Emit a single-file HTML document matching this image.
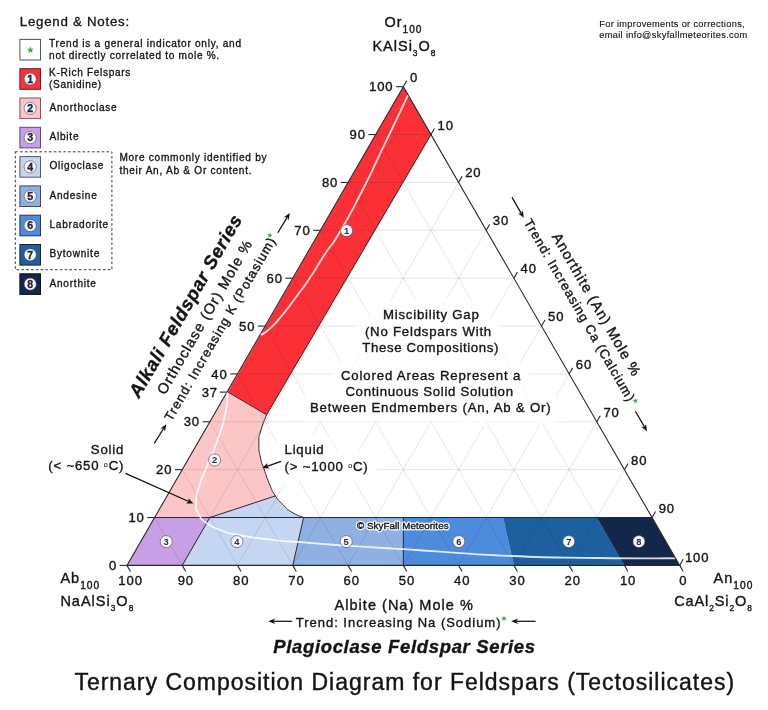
<!DOCTYPE html>
<html><head><meta charset="utf-8"><title>Ternary Composition Diagram for Feldspars</title>
<style>
html,body{margin:0;padding:0;background:#fff;}
body{width:768px;height:710px;overflow:hidden;font-family:"Liberation Sans",sans-serif;}
svg{display:block;font-family:"Liberation Sans",sans-serif;fill:#141414;}
#text text{stroke:#141414;stroke-width:0.36px;}
#legend text{stroke:#141414;stroke-width:0.32px;}
</style></head><body>
<svg width="768" height="710" viewBox="0 0 768 710">
<rect width="768" height="710" fill="#fff"/>
<defs><filter id="glow" x="-10%" y="-60%" width="120%" height="220%"><feGaussianBlur stdDeviation="2.6"/></filter>
<clipPath id="rc">
<path d="M 403.32,86.7 L 430.96,134.57 L 266.6,414.8 L 227.8,392 Z" fill="#fb3036"/>
<path d="M 227.8,392 L 266.6,414.8 C 264.67,420.1 263.37,421.17 260.8,430.7 C 258.23,440.23 258.97,434.23 258.9,443.4 C 258.83,452.57 258.9,449.73 260.6,458.2 C 262.3,466.67 261.1,460.33 264,468.8 C 266.9,477.27 265.5,474.57 269.3,483.6 C 273.1,492.63 270.83,488.87 275.4,495.9 L 209.86,517.53 L 154.59,517.53 Z" fill="#fdc6c6"/>
<polygon points="126.95,565.4 182.23,565.4 209.86,517.53 154.59,517.53" fill="#c69fe6" stroke="none" stroke-width="1" />
<path d="M 182.23,565.4 L 209.86,517.53 L 275.4,495.9 C 279.97,502.93 277.63,499.33 283,504.7 C 288.37,510.07 284.63,507.72 291.5,512 C 298.37,516.28 299.57,515.69 303.6,517.53 L 292.77,565.4 Z" fill="#c4d6f1"/>
<polygon points="292.77,565.4 303.6,517.53 403.32,517.53 403.32,565.4" fill="#8fb0e2" stroke="none" stroke-width="1" />
<polygon points="403.32,565.4 403.32,517.53 503,517.53 513.88,565.4" fill="#4d8bdc" stroke="none" stroke-width="1" />
<polygon points="513.88,565.4 503,517.53 596.79,517.53 624.43,565.4" fill="#1d609f" stroke="none" stroke-width="1" />
<polygon points="624.43,565.4 596.79,517.53 652.06,517.53 679.7,565.4" fill="#13274a" stroke="none" stroke-width="1" />
</clipPath></defs>
<g id="grid0">
<line x1="154.59" y1="517.53" x2="652.06" y2="517.53" stroke="rgba(30,20,30,0.125)" stroke-width="0.9" />
<line x1="182.23" y1="565.4" x2="430.96" y2="134.57" stroke="rgba(30,20,30,0.125)" stroke-width="0.9" />
<line x1="624.43" y1="565.4" x2="375.69" y2="134.57" stroke="rgba(30,20,30,0.125)" stroke-width="0.9" />
<line x1="182.23" y1="469.66" x2="624.43" y2="469.66" stroke="rgba(30,20,30,0.125)" stroke-width="0.9" />
<line x1="237.5" y1="565.4" x2="458.6" y2="182.44" stroke="rgba(30,20,30,0.125)" stroke-width="0.9" />
<line x1="569.15" y1="565.4" x2="348.05" y2="182.44" stroke="rgba(30,20,30,0.125)" stroke-width="0.9" />
<line x1="209.86" y1="421.79" x2="596.79" y2="421.79" stroke="rgba(30,20,30,0.125)" stroke-width="0.9" />
<line x1="292.77" y1="565.4" x2="486.24" y2="230.31" stroke="rgba(30,20,30,0.125)" stroke-width="0.9" />
<line x1="513.88" y1="565.4" x2="320.41" y2="230.31" stroke="rgba(30,20,30,0.125)" stroke-width="0.9" />
<line x1="237.5" y1="373.92" x2="569.15" y2="373.92" stroke="rgba(30,20,30,0.125)" stroke-width="0.9" />
<line x1="348.05" y1="565.4" x2="513.88" y2="278.18" stroke="rgba(30,20,30,0.125)" stroke-width="0.9" />
<line x1="458.6" y1="565.4" x2="292.77" y2="278.18" stroke="rgba(30,20,30,0.125)" stroke-width="0.9" />
<line x1="265.14" y1="326.05" x2="541.51" y2="326.05" stroke="rgba(30,20,30,0.125)" stroke-width="0.9" />
<line x1="403.32" y1="565.4" x2="541.51" y2="326.05" stroke="rgba(30,20,30,0.125)" stroke-width="0.9" />
<line x1="403.32" y1="565.4" x2="265.14" y2="326.05" stroke="rgba(30,20,30,0.125)" stroke-width="0.9" />
<line x1="292.77" y1="278.18" x2="513.88" y2="278.18" stroke="rgba(30,20,30,0.125)" stroke-width="0.9" />
<line x1="458.6" y1="565.4" x2="569.15" y2="373.92" stroke="rgba(30,20,30,0.125)" stroke-width="0.9" />
<line x1="348.05" y1="565.4" x2="237.5" y2="373.92" stroke="rgba(30,20,30,0.125)" stroke-width="0.9" />
<line x1="320.41" y1="230.31" x2="486.24" y2="230.31" stroke="rgba(30,20,30,0.125)" stroke-width="0.9" />
<line x1="513.88" y1="565.4" x2="596.79" y2="421.79" stroke="rgba(30,20,30,0.125)" stroke-width="0.9" />
<line x1="292.77" y1="565.4" x2="209.86" y2="421.79" stroke="rgba(30,20,30,0.125)" stroke-width="0.9" />
<line x1="348.05" y1="182.44" x2="458.6" y2="182.44" stroke="rgba(30,20,30,0.125)" stroke-width="0.9" />
<line x1="569.15" y1="565.4" x2="624.43" y2="469.66" stroke="rgba(30,20,30,0.125)" stroke-width="0.9" />
<line x1="237.5" y1="565.4" x2="182.23" y2="469.66" stroke="rgba(30,20,30,0.125)" stroke-width="0.9" />
<line x1="375.69" y1="134.57" x2="430.96" y2="134.57" stroke="rgba(30,20,30,0.125)" stroke-width="0.9" />
<line x1="624.43" y1="565.4" x2="652.06" y2="517.53" stroke="rgba(30,20,30,0.125)" stroke-width="0.9" />
<line x1="182.23" y1="565.4" x2="154.59" y2="517.53" stroke="rgba(30,20,30,0.125)" stroke-width="0.9" />
</g>
<g id="halo" filter="url(#glow)">
<text x="383" y="319.4" font-size="13.2" letter-spacing="0.77" stroke="#fff" stroke-width="20" fill="#fff" stroke-linejoin="round" stroke-linecap="round">Miscibility Gap</text>
<text x="364.9" y="335.9" font-size="13.2" letter-spacing="0.79" stroke="#fff" stroke-width="20" fill="#fff" stroke-linejoin="round" stroke-linecap="round">(No Feldspars With</text>
<text x="362.3" y="352" font-size="13.2" letter-spacing="0.64" stroke="#fff" stroke-width="20" fill="#fff" stroke-linejoin="round" stroke-linecap="round">These Compositions)</text>
<text x="341" y="380" font-size="13.2" letter-spacing="0.84" stroke="#fff" stroke-width="20" fill="#fff" stroke-linejoin="round" stroke-linecap="round">Colored Areas Represent a</text>
<text x="345.4" y="395.9" font-size="13.2" letter-spacing="0.69" stroke="#fff" stroke-width="20" fill="#fff" stroke-linejoin="round" stroke-linecap="round">Continuous Solid Solution</text>
<text x="310" y="411.9" font-size="13.2" letter-spacing="0.81" stroke="#fff" stroke-width="20" fill="#fff" stroke-linejoin="round" stroke-linecap="round">Between Endmembers (An, Ab &amp; Or)</text>
<text x="284.5" y="454" font-size="13.2" letter-spacing="0.8" stroke="#fff" stroke-width="20" fill="#fff" stroke-linejoin="round" stroke-linecap="round">Liquid</text>
<text x="284.5" y="471" font-size="13.2" letter-spacing="0.8" stroke="#fff" stroke-width="20" fill="#fff" stroke-linejoin="round" stroke-linecap="round">(&gt; ~1000 <tspan font-size="7.2" dy="-3.4" style="stroke-width:0.1px">o</tspan><tspan dy="3.4">C)</tspan></text>
</g>
<g id="regions">
<path d="M 403.32,86.7 L 430.96,134.57 L 266.6,414.8 L 227.8,392 Z" fill="#fb3036"/>
<path d="M 227.8,392 L 266.6,414.8 C 264.67,420.1 263.37,421.17 260.8,430.7 C 258.23,440.23 258.97,434.23 258.9,443.4 C 258.83,452.57 258.9,449.73 260.6,458.2 C 262.3,466.67 261.1,460.33 264,468.8 C 266.9,477.27 265.5,474.57 269.3,483.6 C 273.1,492.63 270.83,488.87 275.4,495.9 L 209.86,517.53 L 154.59,517.53 Z" fill="#fdc6c6"/>
<polygon points="126.95,565.4 182.23,565.4 209.86,517.53 154.59,517.53" fill="#c69fe6" stroke="none" stroke-width="1" />
<path d="M 182.23,565.4 L 209.86,517.53 L 275.4,495.9 C 279.97,502.93 277.63,499.33 283,504.7 C 288.37,510.07 284.63,507.72 291.5,512 C 298.37,516.28 299.57,515.69 303.6,517.53 L 292.77,565.4 Z" fill="#c4d6f1"/>
<polygon points="292.77,565.4 303.6,517.53 403.32,517.53 403.32,565.4" fill="#8fb0e2" stroke="none" stroke-width="1" />
<polygon points="403.32,565.4 403.32,517.53 503,517.53 513.88,565.4" fill="#4d8bdc" stroke="none" stroke-width="1" />
<polygon points="513.88,565.4 503,517.53 596.79,517.53 624.43,565.4" fill="#1d609f" stroke="none" stroke-width="1" />
<polygon points="624.43,565.4 596.79,517.53 652.06,517.53 679.7,565.4" fill="#13274a" stroke="none" stroke-width="1" />
</g>
<g id="grid" clip-path="url(#rc)">
<line x1="154.59" y1="517.53" x2="652.06" y2="517.53" stroke="rgba(30,20,30,0.125)" stroke-width="0.9" />
<line x1="182.23" y1="565.4" x2="430.96" y2="134.57" stroke="rgba(30,20,30,0.125)" stroke-width="0.9" />
<line x1="624.43" y1="565.4" x2="375.69" y2="134.57" stroke="rgba(30,20,30,0.125)" stroke-width="0.9" />
<line x1="182.23" y1="469.66" x2="624.43" y2="469.66" stroke="rgba(30,20,30,0.125)" stroke-width="0.9" />
<line x1="237.5" y1="565.4" x2="458.6" y2="182.44" stroke="rgba(30,20,30,0.125)" stroke-width="0.9" />
<line x1="569.15" y1="565.4" x2="348.05" y2="182.44" stroke="rgba(30,20,30,0.125)" stroke-width="0.9" />
<line x1="209.86" y1="421.79" x2="596.79" y2="421.79" stroke="rgba(30,20,30,0.125)" stroke-width="0.9" />
<line x1="292.77" y1="565.4" x2="486.24" y2="230.31" stroke="rgba(30,20,30,0.125)" stroke-width="0.9" />
<line x1="513.88" y1="565.4" x2="320.41" y2="230.31" stroke="rgba(30,20,30,0.125)" stroke-width="0.9" />
<line x1="237.5" y1="373.92" x2="569.15" y2="373.92" stroke="rgba(30,20,30,0.125)" stroke-width="0.9" />
<line x1="348.05" y1="565.4" x2="513.88" y2="278.18" stroke="rgba(30,20,30,0.125)" stroke-width="0.9" />
<line x1="458.6" y1="565.4" x2="292.77" y2="278.18" stroke="rgba(30,20,30,0.125)" stroke-width="0.9" />
<line x1="265.14" y1="326.05" x2="541.51" y2="326.05" stroke="rgba(30,20,30,0.125)" stroke-width="0.9" />
<line x1="403.32" y1="565.4" x2="541.51" y2="326.05" stroke="rgba(30,20,30,0.125)" stroke-width="0.9" />
<line x1="403.32" y1="565.4" x2="265.14" y2="326.05" stroke="rgba(30,20,30,0.125)" stroke-width="0.9" />
<line x1="292.77" y1="278.18" x2="513.88" y2="278.18" stroke="rgba(30,20,30,0.125)" stroke-width="0.9" />
<line x1="458.6" y1="565.4" x2="569.15" y2="373.92" stroke="rgba(30,20,30,0.125)" stroke-width="0.9" />
<line x1="348.05" y1="565.4" x2="237.5" y2="373.92" stroke="rgba(30,20,30,0.125)" stroke-width="0.9" />
<line x1="320.41" y1="230.31" x2="486.24" y2="230.31" stroke="rgba(30,20,30,0.125)" stroke-width="0.9" />
<line x1="513.88" y1="565.4" x2="596.79" y2="421.79" stroke="rgba(30,20,30,0.125)" stroke-width="0.9" />
<line x1="292.77" y1="565.4" x2="209.86" y2="421.79" stroke="rgba(30,20,30,0.125)" stroke-width="0.9" />
<line x1="348.05" y1="182.44" x2="458.6" y2="182.44" stroke="rgba(30,20,30,0.125)" stroke-width="0.9" />
<line x1="569.15" y1="565.4" x2="624.43" y2="469.66" stroke="rgba(30,20,30,0.125)" stroke-width="0.9" />
<line x1="237.5" y1="565.4" x2="182.23" y2="469.66" stroke="rgba(30,20,30,0.125)" stroke-width="0.9" />
<line x1="375.69" y1="134.57" x2="430.96" y2="134.57" stroke="rgba(30,20,30,0.125)" stroke-width="0.9" />
<line x1="624.43" y1="565.4" x2="652.06" y2="517.53" stroke="rgba(30,20,30,0.125)" stroke-width="0.9" />
<line x1="182.23" y1="565.4" x2="154.59" y2="517.53" stroke="rgba(30,20,30,0.125)" stroke-width="0.9" />
</g>
<g id="outline">
<path d="M 227.8,392 L 266.6,414.8" stroke="#30262b" fill="none"/>
<path d="M 430.96,134.57 L 266.6,414.8 C 264.67,420.1 263.37,421.17 260.8,430.7 C 258.23,440.23 258.97,434.23 258.9,443.4 C 258.83,452.57 258.9,449.73 260.6,458.2 C 262.3,466.67 261.1,460.33 264,468.8 C 266.9,477.27 265.5,474.57 269.3,483.6 C 273.1,492.63 270.83,488.87 275.4,495.9 C 279.97,502.93 277.63,499.33 283,504.7 C 288.37,510.07 284.63,507.72 291.5,512 C 298.37,516.28 299.57,515.69 303.6,517.53" stroke="#30262b" fill="none"/>
<path d="M 154.59,517.53 L 652.06,517.53" stroke="#30262b" fill="none"/>
<path d="M 182.23,565.4 L 209.86,517.53 L 275.4,495.9" stroke="#30262b" fill="none"/>
<path d="M 303.6,517.53 L 292.77,565.4" stroke="#30262b" fill="none"/>
<path d="M 403.32,517.53 L 403.32,565.4" stroke="#30262b" fill="none"/>
<polygon points="403.32,86.7 126.95,565.4 679.7,565.4" fill="none" stroke="#30262b" stroke-width="1.1" stroke-linejoin="miter"/>
<line x1="126.95" y1="565.4" x2="119.65" y2="565.4" stroke="#30262b" stroke-width="1.1" />
<line x1="154.59" y1="517.53" x2="147.29" y2="517.53" stroke="#30262b" stroke-width="1.1" />
<line x1="182.23" y1="469.66" x2="174.93" y2="469.66" stroke="#30262b" stroke-width="1.1" />
<line x1="209.86" y1="421.79" x2="202.56" y2="421.79" stroke="#30262b" stroke-width="1.1" />
<line x1="237.5" y1="373.92" x2="230.2" y2="373.92" stroke="#30262b" stroke-width="1.1" />
<line x1="265.14" y1="326.05" x2="257.84" y2="326.05" stroke="#30262b" stroke-width="1.1" />
<line x1="292.77" y1="278.18" x2="285.47" y2="278.18" stroke="#30262b" stroke-width="1.1" />
<line x1="320.41" y1="230.31" x2="313.11" y2="230.31" stroke="#30262b" stroke-width="1.1" />
<line x1="348.05" y1="182.44" x2="340.75" y2="182.44" stroke="#30262b" stroke-width="1.1" />
<line x1="375.69" y1="134.57" x2="368.39" y2="134.57" stroke="#30262b" stroke-width="1.1" />
<line x1="403.32" y1="86.7" x2="396.02" y2="86.7" stroke="#30262b" stroke-width="1.1" />
<line x1="227" y1="392.11" x2="219.7" y2="392.11" stroke="#30262b" stroke-width="1.1" />
<line x1="403.32" y1="86.7" x2="406.82" y2="80.64" stroke="#30262b" stroke-width="1.1" />
<line x1="679.7" y1="565.4" x2="683.2" y2="571.46" stroke="#30262b" stroke-width="1.1" />
<line x1="430.96" y1="134.57" x2="434.46" y2="128.51" stroke="#30262b" stroke-width="1.1" />
<line x1="624.43" y1="565.4" x2="627.93" y2="571.46" stroke="#30262b" stroke-width="1.1" />
<line x1="458.6" y1="182.44" x2="462.1" y2="176.38" stroke="#30262b" stroke-width="1.1" />
<line x1="569.15" y1="565.4" x2="572.65" y2="571.46" stroke="#30262b" stroke-width="1.1" />
<line x1="486.24" y1="230.31" x2="489.74" y2="224.25" stroke="#30262b" stroke-width="1.1" />
<line x1="513.88" y1="565.4" x2="517.38" y2="571.46" stroke="#30262b" stroke-width="1.1" />
<line x1="513.88" y1="278.18" x2="517.38" y2="272.12" stroke="#30262b" stroke-width="1.1" />
<line x1="458.6" y1="565.4" x2="462.1" y2="571.46" stroke="#30262b" stroke-width="1.1" />
<line x1="541.51" y1="326.05" x2="545.01" y2="319.99" stroke="#30262b" stroke-width="1.1" />
<line x1="403.32" y1="565.4" x2="406.82" y2="571.46" stroke="#30262b" stroke-width="1.1" />
<line x1="569.15" y1="373.92" x2="572.65" y2="367.86" stroke="#30262b" stroke-width="1.1" />
<line x1="348.05" y1="565.4" x2="351.55" y2="571.46" stroke="#30262b" stroke-width="1.1" />
<line x1="596.79" y1="421.79" x2="600.29" y2="415.73" stroke="#30262b" stroke-width="1.1" />
<line x1="292.77" y1="565.4" x2="296.27" y2="571.46" stroke="#30262b" stroke-width="1.1" />
<line x1="624.43" y1="469.66" x2="627.93" y2="463.6" stroke="#30262b" stroke-width="1.1" />
<line x1="237.5" y1="565.4" x2="241" y2="571.46" stroke="#30262b" stroke-width="1.1" />
<line x1="652.06" y1="517.53" x2="655.56" y2="511.47" stroke="#30262b" stroke-width="1.1" />
<line x1="182.23" y1="565.4" x2="185.73" y2="571.46" stroke="#30262b" stroke-width="1.1" />
<line x1="679.7" y1="565.4" x2="683.2" y2="559.34" stroke="#30262b" stroke-width="1.1" />
<line x1="126.95" y1="565.4" x2="130.45" y2="571.46" stroke="#30262b" stroke-width="1.1" />
</g>
<g id="white">
<path d="M 407.9,95.5 C 405.17,101.2 405.8,99.77 399.7,112.6 C 393.6,125.43 396.3,120 389.6,134 C 382.9,148 388.37,136.43 379.6,154.6 C 370.83,172.77 376.17,163.37 363.3,188.5 C 350.43,213.63 353.83,208.1 341,230 C 328.17,251.9 334.93,238.6 324.8,254.2 C 314.67,269.8 320.03,262.7 310.6,276.8 C 301.17,290.9 305.87,283.83 296.5,296.5 C 287.13,309.17 290.93,304.53 282.5,314.8 C 274.07,325.07 278.3,320.57 271.2,327.3 C 264.1,334.03 264.53,332.43 261.2,335" stroke="rgba(255,255,255,0.84)" stroke-width="1.8" fill="none" stroke-linecap="butt"/>
<path d="M 227.4,392.6 C 226.67,399.73 228.67,397.77 225.2,414 C 221.73,430.23 222.87,424.43 217,441.3 C 211.13,458.17 213.47,449.8 207.6,464.6 C 201.73,479.4 203.27,473.03 199.4,485.7 C 195.53,498.37 196.07,492.83 196,502.6 C 195.93,512.37 195.53,508.13 199.2,515 C 202.87,521.87 199.73,518.13 207,523.2 C 214.27,528.27 210.5,526.27 221,530.2 C 231.5,534.13 221.37,531.8 238.5,535 C 255.63,538.2 249.8,537.27 272.4,539.8 C 295,542.33 280.67,540.57 306.3,542.6 C 331.93,544.63 316.93,543.7 349.3,545.9 C 381.67,548.1 373.17,547.3 403.4,549.2 C 433.63,551.1 404.13,549.33 440,551.6 C 475.87,553.87 458,553.87 511,556 C 564,558.13 544.4,557.23 599,558 C 653.6,558.77 649.53,558.2 674.8,558.3" stroke="rgba(255,255,255,0.84)" stroke-width="1.85" fill="none" stroke-linecap="butt"/>
</g>
<g id="marks" opacity="0.999">
<circle cx="346.6" cy="230.6" r="6.0" fill="#faf8fc" stroke="#4a4560" stroke-width="0.6"/><text x="346.6" y="233.98" font-size="9.4" font-weight="bold" text-anchor="middle" fill="#2b2a4a">1</text>
<circle cx="214.6" cy="460" r="6.0" fill="#faf8fc" stroke="#4a4560" stroke-width="0.6"/><text x="214.6" y="463.38" font-size="9.4" font-weight="bold" text-anchor="middle" fill="#2b2a4a">2</text>
<circle cx="166.2" cy="541.6" r="6.0" fill="#faf8fc" stroke="#4a4560" stroke-width="0.6"/><text x="166.2" y="544.98" font-size="9.4" font-weight="bold" text-anchor="middle" fill="#2b2a4a">3</text>
<circle cx="236.9" cy="541.6" r="6.0" fill="#faf8fc" stroke="#4a4560" stroke-width="0.6"/><text x="236.9" y="544.98" font-size="9.4" font-weight="bold" text-anchor="middle" fill="#2b2a4a">4</text>
<circle cx="346.2" cy="541.6" r="6.0" fill="#faf8fc" stroke="#4a4560" stroke-width="0.6"/><text x="346.2" y="544.98" font-size="9.4" font-weight="bold" text-anchor="middle" fill="#2b2a4a">5</text>
<circle cx="458.8" cy="541.6" r="6.0" fill="#faf8fc" stroke="#4a4560" stroke-width="0.6"/><text x="458.8" y="544.98" font-size="9.4" font-weight="bold" text-anchor="middle" fill="#2b2a4a">6</text>
<circle cx="568.8" cy="541.6" r="6.0" fill="#faf8fc" stroke="#4a4560" stroke-width="0.6"/><text x="568.8" y="544.98" font-size="9.4" font-weight="bold" text-anchor="middle" fill="#2b2a4a">7</text>
<circle cx="638.9" cy="541.6" r="6.0" fill="#faf8fc" stroke="#4a4560" stroke-width="0.6"/><text x="638.9" y="544.98" font-size="9.4" font-weight="bold" text-anchor="middle" fill="#2b2a4a">8</text>
</g>
<g id="arrows">
<line x1="154.3" y1="443.3" x2="163.59" y2="428.52" stroke="#111" stroke-width="1.25" /><polygon points="166.3,424.2 165.05,431.45 163.59,428.52 160.31,428.47" fill="#111"/>
<line x1="277.8" y1="232.8" x2="287.16" y2="217.36" stroke="#111" stroke-width="1.25" /><polygon points="289.8,213 288.67,220.27 287.16,217.36 283.88,217.36" fill="#111"/>
<line x1="512" y1="197.4" x2="521.25" y2="213.39" stroke="#111" stroke-width="1.25" /><polygon points="523.8,217.8 517.97,213.32 521.25,213.39 522.82,210.51" fill="#111"/>
<line x1="635.4" y1="411.2" x2="644.45" y2="426.88" stroke="#111" stroke-width="1.25" /><polygon points="647,431.3 641.18,426.81 644.45,426.88 646.03,424.01" fill="#111"/>
<line x1="292.2" y1="621.3" x2="273.4" y2="621.3" stroke="#111" stroke-width="1.25" /><polygon points="268.3,621.3 275.1,618.5 273.4,621.3 275.1,624.1" fill="#111"/>
<line x1="535.6" y1="621.3" x2="516.3" y2="621.3" stroke="#111" stroke-width="1.25" /><polygon points="511.2,621.3 518,618.5 516.3,621.3 518,624.1" fill="#111"/>
<line x1="125.5" y1="473.4" x2="188.74" y2="501.53" stroke="#111" stroke-width="1.25" /><polygon points="193.4,503.6 186.05,503.39 188.74,501.53 188.32,498.28" fill="#111"/>
<line x1="281" y1="461.4" x2="267.01" y2="466.31" stroke="#111" stroke-width="1.25" /><polygon points="262.2,468 267.69,463.11 267.01,466.31 269.54,468.39" fill="#111"/>
</g>
<g id="halo2" opacity="0.999">
<text x="356.9" y="529.4" font-size="9.8" letter-spacing="0.06" stroke="#f6f8fc" stroke-width="3" fill="#f6f8fc" stroke-linejoin="round">&#169; SkyFall Meteorites</text>
</g>
<g id="text" opacity="0.999">
<text x="117.15" y="570.1" font-size="13.1" text-anchor="end" letter-spacing="0.9" >0</text>
<text x="144.79" y="522.23" font-size="13.1" text-anchor="end" letter-spacing="0.9" >10</text>
<text x="172.43" y="474.36" font-size="13.1" text-anchor="end" letter-spacing="0.9" >20</text>
<text x="200.06" y="426.49" font-size="13.1" text-anchor="end" letter-spacing="0.9" >30</text>
<text x="227.7" y="378.62" font-size="13.1" text-anchor="end" letter-spacing="0.9" >40</text>
<text x="255.34" y="330.75" font-size="13.1" text-anchor="end" letter-spacing="0.9" >50</text>
<text x="282.97" y="282.88" font-size="13.1" text-anchor="end" letter-spacing="0.9" >60</text>
<text x="310.61" y="235.01" font-size="13.1" text-anchor="end" letter-spacing="0.9" >70</text>
<text x="338.25" y="187.14" font-size="13.1" text-anchor="end" letter-spacing="0.9" >80</text>
<text x="365.89" y="139.27" font-size="13.1" text-anchor="end" letter-spacing="0.9" >90</text>
<text x="393.52" y="91.4" font-size="13.1" text-anchor="end" letter-spacing="0.9" >100</text>
<text x="218" y="396.7" font-size="13.1" text-anchor="end" letter-spacing="0.9" >37</text>
<text x="409.93" y="81.7" font-size="13.1" letter-spacing="0.9" >0</text>
<text x="437.56" y="129.57" font-size="13.1" letter-spacing="0.9" >10</text>
<text x="465.2" y="177.44" font-size="13.1" letter-spacing="0.9" >20</text>
<text x="492.84" y="225.31" font-size="13.1" letter-spacing="0.9" >30</text>
<text x="520.48" y="273.18" font-size="13.1" letter-spacing="0.9" >40</text>
<text x="548.11" y="321.05" font-size="13.1" letter-spacing="0.9" >50</text>
<text x="575.75" y="368.92" font-size="13.1" letter-spacing="0.9" >60</text>
<text x="603.39" y="416.79" font-size="13.1" letter-spacing="0.9" >70</text>
<text x="631.03" y="464.66" font-size="13.1" letter-spacing="0.9" >80</text>
<text x="658.66" y="512.53" font-size="13.1" letter-spacing="0.9" >90</text>
<text x="684.9" y="562" font-size="13.1" letter-spacing="0.9" >100</text>
<text x="683.35" y="585.4" font-size="13.1" text-anchor="middle" letter-spacing="0.9" >0</text>
<text x="628.08" y="585.4" font-size="13.1" text-anchor="middle" letter-spacing="0.9" >10</text>
<text x="572.8" y="585.4" font-size="13.1" text-anchor="middle" letter-spacing="0.9" >20</text>
<text x="517.53" y="585.4" font-size="13.1" text-anchor="middle" letter-spacing="0.9" >30</text>
<text x="462.25" y="585.4" font-size="13.1" text-anchor="middle" letter-spacing="0.9" >40</text>
<text x="406.97" y="585.4" font-size="13.1" text-anchor="middle" letter-spacing="0.9" >50</text>
<text x="351.7" y="585.4" font-size="13.1" text-anchor="middle" letter-spacing="0.9" >60</text>
<text x="296.42" y="585.4" font-size="13.1" text-anchor="middle" letter-spacing="0.9" >70</text>
<text x="241.15" y="585.4" font-size="13.1" text-anchor="middle" letter-spacing="0.9" >80</text>
<text x="185.88" y="585.4" font-size="13.1" text-anchor="middle" letter-spacing="0.9" >90</text>
<text x="130.6" y="585.4" font-size="13.1" text-anchor="middle" letter-spacing="0.9" >100</text>
<text x="384.4" y="26.9" font-size="14.5" letter-spacing="1" >Or<tspan font-size="10.2" dy="5.8">100</tspan></text>
<text x="372.4" y="50.8" font-size="14.5" letter-spacing="1" ><tspan dy="0">KAlSi</tspan><tspan font-size="8.3" dy="5">3</tspan><tspan dy="-5">O</tspan><tspan font-size="8.3" dy="5">8</tspan></text>
<text x="60.4" y="583.4" font-size="14.5" letter-spacing="1" >Ab<tspan font-size="10.2" dy="5.8">100</tspan></text>
<text x="60.4" y="605.5" font-size="14.5" letter-spacing="1" ><tspan dy="0">NaAlSi</tspan><tspan font-size="8.3" dy="5">3</tspan><tspan dy="-5">O</tspan><tspan font-size="8.3" dy="5">8</tspan></text>
<text x="713.6" y="583.2" font-size="14.5" letter-spacing="1" >An<tspan font-size="10.2" dy="5.8">100</tspan></text>
<text x="674.2" y="605.5" font-size="14.5" letter-spacing="0.9" ><tspan dy="0">CaAl</tspan><tspan font-size="8.3" dy="5">2</tspan><tspan dy="-5">Si</tspan><tspan font-size="8.3" dy="5">2</tspan><tspan dy="-5">O</tspan><tspan font-size="8.3" dy="5">8</tspan></text>
<text x="383" y="319.4" font-size="13.2" letter-spacing="0.77" >Miscibility Gap</text>
<text x="364.9" y="335.9" font-size="13.2" letter-spacing="0.79" >(No Feldspars With</text>
<text x="362.3" y="352" font-size="13.2" letter-spacing="0.64" >These Compositions)</text>
<text x="341" y="380" font-size="13.2" letter-spacing="0.84" >Colored Areas Represent a</text>
<text x="345.4" y="395.9" font-size="13.2" letter-spacing="0.69" >Continuous Solid Solution</text>
<text x="310" y="411.9" font-size="13.2" letter-spacing="0.81" >Between Endmembers (An, Ab &amp; Or)</text>
<text x="124.2" y="454.3" font-size="13.2" text-anchor="end" letter-spacing="0.8" >Solid</text>
<text x="124.2" y="470.2" font-size="13.2" text-anchor="end" letter-spacing="0.8" >(&lt; ~650 <tspan font-size="7.2" dy="-3.4" style="stroke-width:0.1px">o</tspan><tspan dy="3.4">C)</tspan></text>
<text x="284.5" y="454" font-size="13.2" letter-spacing="0.8" >Liquid</text>
<text x="284.5" y="471" font-size="13.2" letter-spacing="0.8" >(&gt; ~1000 <tspan font-size="7.2" dy="-3.4" style="stroke-width:0.1px">o</tspan><tspan dy="3.4">C)</tspan></text>
<text x="356.9" y="529.4" font-size="9.8" letter-spacing="0.06" >&#169; SkyFall Meteorites</text>
<text x="334.6" y="609.8" font-size="14.5" letter-spacing="1.02" >Albite (Na) Mole %</text>
<text x="295.8" y="627" font-size="13" letter-spacing="0.98" >Trend: Increasing Na (Sodium)</text>
<polygon points="504,615.6 504.74,617.58 506.85,617.67 505.2,618.99 505.76,621.03 504,619.86 502.24,621.03 502.8,618.99 501.15,617.67 503.26,617.58" fill="#2db34a"/>
<text x="273.2" y="652.8" font-size="18.5" letter-spacing="0.66" font-weight="bold" font-style="italic" >Plagioclase Feldspar Series</text>
<text x="74.4" y="689.7" font-size="23" letter-spacing="0.99" style="stroke-width:0.4px">Ternary Composition Diagram for Feldspars (Tectosilicates)</text>
<text x="599.3" y="26.8" font-size="9.2" letter-spacing="0.34" style="stroke-width:0.14px">For improvements or corrections,</text>
<text x="599.3" y="38.3" font-size="9.2" letter-spacing="0.35" style="stroke-width:0.14px">email info@skyfallmeteorites.com</text>
<g transform="translate(139 399) rotate(-60)"><text x="0" y="0" font-size="18.5" letter-spacing="0.71" font-weight="bold" font-style="italic" >Alkali Feldspar Series</text></g>
<g transform="translate(165.1 395.4) rotate(-60)"><text x="0" y="0" font-size="14.5" letter-spacing="1.07" >Orthoclase (Or) Mole %</text></g>
<g transform="translate(171.4 422) rotate(-60)"><text x="0" y="0" font-size="13" letter-spacing="1.02" >Trend: Increasing K (Potasium)</text><polygon points="210.8,-11 211.52,-9.09 213.56,-9 211.96,-7.72 212.5,-5.75 210.8,-6.88 209.1,-5.75 209.64,-7.72 208.04,-9 210.08,-9.09" fill="#2db34a"/></g>
<g transform="translate(551.6 236.6) rotate(60)"><text x="0" y="0" font-size="14.5" letter-spacing="1.01" >Anorthite (An) Mole %</text></g>
<g transform="translate(523.6 222.2) rotate(60)"><text x="0" y="0" font-size="13" letter-spacing="0.96" >Trend: Increasing Ca (Calcium)</text><polygon points="210.6,-10.5 211.32,-8.59 213.36,-8.5 211.76,-7.22 212.3,-5.25 210.6,-6.38 208.9,-5.25 209.44,-7.22 207.84,-8.5 209.88,-8.59" fill="#2db34a"/></g>
</g>
<g id="legend" opacity="0.999">
<text x="19.8" y="25.6" font-size="13.3" letter-spacing="0.73" >Legend &amp; Notes:</text>
<rect x="19.9" y="39.4" width="20.6" height="20.6" fill="#ffffff" stroke="#555" stroke-width="1"/>
<polygon points="30.4,46.3 31.31,48.74 33.92,48.86 31.88,50.48 32.57,52.99 30.4,51.55 28.23,52.99 28.92,50.48 26.88,48.86 29.49,48.74" fill="#2db34a"/>
<rect x="19.9" y="68.7" width="20.6" height="20.6" fill="#fb3036" stroke="#7a1a1e" stroke-width="1"/>
<circle cx="30.2" cy="79" r="6.1" fill="#faf8fc" stroke="#4a4560" stroke-width="0.6"/><text x="30.2" y="82.82" font-size="10.6" font-weight="bold" text-anchor="middle" fill="#2b2a4a">1</text>
<rect x="19.9" y="98" width="20.6" height="20.6" fill="#fdc6c6" stroke="#7a5a60" stroke-width="1"/>
<circle cx="30.2" cy="108.3" r="6.1" fill="#faf8fc" stroke="#4a4560" stroke-width="0.6"/><text x="30.2" y="112.12" font-size="10.6" font-weight="bold" text-anchor="middle" fill="#2b2a4a">2</text>
<rect x="19.9" y="127.3" width="20.6" height="20.6" fill="#c69fe6" stroke="#5e4a78" stroke-width="1"/>
<circle cx="30.2" cy="137.6" r="6.1" fill="#faf8fc" stroke="#4a4560" stroke-width="0.6"/><text x="30.2" y="141.42" font-size="10.6" font-weight="bold" text-anchor="middle" fill="#2b2a4a">3</text>
<rect x="19.9" y="156.6" width="20.6" height="20.6" fill="#c4d6f1" stroke="#556" stroke-width="1"/>
<circle cx="30.2" cy="166.9" r="6.1" fill="#faf8fc" stroke="#4a4560" stroke-width="0.6"/><text x="30.2" y="170.72" font-size="10.6" font-weight="bold" text-anchor="middle" fill="#2b2a4a">4</text>
<rect x="19.9" y="185.9" width="20.6" height="20.6" fill="#8fb0e2" stroke="#445" stroke-width="1"/>
<circle cx="30.2" cy="196.2" r="6.1" fill="#faf8fc" stroke="#4a4560" stroke-width="0.6"/><text x="30.2" y="200.02" font-size="10.6" font-weight="bold" text-anchor="middle" fill="#2b2a4a">5</text>
<rect x="19.9" y="215.2" width="20.6" height="20.6" fill="#4d8bdc" stroke="#334" stroke-width="1"/>
<circle cx="30.2" cy="225.5" r="6.1" fill="#faf8fc" stroke="#4a4560" stroke-width="0.6"/><text x="30.2" y="229.32" font-size="10.6" font-weight="bold" text-anchor="middle" fill="#2b2a4a">6</text>
<rect x="19.9" y="244.5" width="20.6" height="20.6" fill="#1d609f" stroke="#223" stroke-width="1"/>
<circle cx="30.2" cy="254.8" r="6.1" fill="#faf8fc" stroke="#4a4560" stroke-width="0.6"/><text x="30.2" y="258.62" font-size="10.6" font-weight="bold" text-anchor="middle" fill="#2b2a4a">7</text>
<rect x="19.9" y="273.8" width="20.6" height="20.6" fill="#13274a" stroke="#0a1020" stroke-width="1"/>
<circle cx="30.2" cy="284.1" r="6.1" fill="#faf8fc" stroke="#4a4560" stroke-width="0.6"/><text x="30.2" y="287.92" font-size="10.6" font-weight="bold" text-anchor="middle" fill="#2b2a4a">8</text>
<text x="49.1" y="46.8" font-size="10.1" letter-spacing="0.73" >Trend is a general indicator only, and</text>
<text x="49.1" y="59.2" font-size="10.1" letter-spacing="0.7" >not directly correlated to mole %.</text>
<text x="49.1" y="76" font-size="10.1" letter-spacing="0.68" >K-Rich Felspars</text>
<text x="49.1" y="88.3" font-size="10.1" letter-spacing="0.66" >(Sanidine)</text>
<text x="49.5" y="110.8" font-size="10.1" letter-spacing="0.75" >Anorthoclase</text>
<text x="49.5" y="140.1" font-size="10.1" letter-spacing="0.75" >Albite</text>
<text x="49.5" y="169.4" font-size="10.1" letter-spacing="0.75" >Oligoclase</text>
<text x="49.5" y="198.7" font-size="10.1" letter-spacing="0.75" >Andesine</text>
<text x="49.5" y="228" font-size="10.1" letter-spacing="0.75" >Labradorite</text>
<text x="49.5" y="257.3" font-size="10.1" letter-spacing="0.75" >Bytownite</text>
<text x="49.5" y="286.6" font-size="10.1" letter-spacing="0.75" >Anorthite</text>
<text x="119.4" y="161.4" font-size="10.1" letter-spacing="0.72" >More commonly identified by</text>
<text x="119.4" y="173.7" font-size="10.1" letter-spacing="0.73" >their An, Ab &amp; Or content.</text>
<rect x="15.3" y="151.8" width="96.6" height="117.9" fill="none" stroke="#222" stroke-width="0.9" stroke-dasharray="2.6 2.2"/>
</g>
</svg>
</body></html>
